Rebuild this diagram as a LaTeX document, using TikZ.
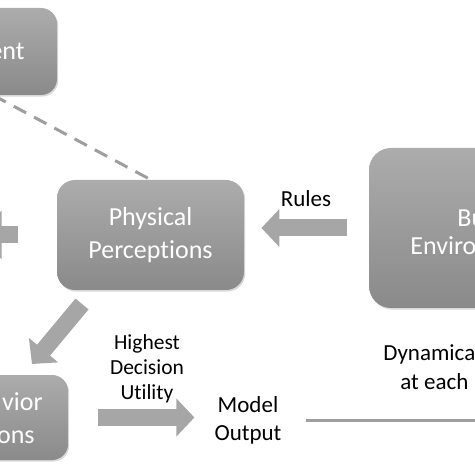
\documentclass[tikz,border=0pt]{standalone}
\usepackage{fontspec}
\setmainfont[Ligatures=CommonOff]{Carlito}
\usetikzlibrary{arrows.meta,positioning,shadows}

\definecolor{boxtop}{RGB}{172,172,172}
\definecolor{boxbot}{RGB}{138,138,138}
\definecolor{arrowgray}{RGB}{166,166,166}
\definecolor{linegray}{RGB}{158,158,158}

\begin{document}
\begin{tikzpicture} [
    x=0.5pt, y=-0.5pt,
    block/.style={rectangle, rounded corners=9pt, draw=none, top color=boxtop, bottom color=boxbot,
      text=white, align=center, font=\fontsize{13}{16.5}\selectfont,
      drop shadow={opacity=0.3, shadow xshift=0.6pt, shadow yshift=-0.8pt}},
    boxtext/.style={text=white, inner sep=0pt, font=\fontsize{13}{16.5}\selectfont},
    note/.style={inner sep=0pt, align=center, font=\fontsize{11.5}{14}\selectfont},
    blk/.style={draw=arrowgray, line width=8.5pt, -{Triangle[length=9pt,width=18.5pt]}},
    flat/.style={draw=linegray, line width=1.5pt},
    dashline/.style={draw=linegray, line width=1.5pt, dash pattern=on 7pt off 4.5pt}
    ]
    \useasboundingbox (0,0) rectangle (474,474);
    %Boxes
    \node[block, minimum width=63.5pt, minimum height=43.5pt, rounded corners=8pt] (agent) at (-6.5,51.5) {};
    \node[boxtext, anchor=base east] (agenttxt) at (25,60) {ent};
    \node[block, minimum width=93.5pt, minimum height=55pt] (phys) at (150.5,235) {Physical\\Perceptions};
    \node[block, minimum width=115.5pt, minimum height=80pt, rounded corners=11pt] (built) at (484.5,228) {};
    \node[boxtext, anchor=base west] (builttxt1) at (457,227) {Bu};
    \node[boxtext, anchor=base west] (builttxt2) at (410,255) {Enviro};
    \node[block, minimum width=69pt, minimum height=42.5pt, rounded corners=8pt] (behav) at (-1,417.5) {};
    \node[boxtext, anchor=base east] (behavtxt1) at (43,410) {vior};
    \node[boxtext, anchor=base east] (behavtxt2) at (35,443) {ons};
    %Texts
    \node[note, anchor=base] (rules) at (306,207) {Rules};
    \node[note, font=\fontsize{10.75}{12.5}\selectfont] (utility) at (147,369) {Highest\\Decision\\Utility};
    \node[note] (output) at (248,420.5) {Model\\Output};
    \node[note, anchor=base west] (dyn1) at (383,360) {Dynamica};
    \node[note, anchor=base west] (dyn2) at (400,389) {at each};
    \coordinate (rulesA) at ([xshift=-11pt]built.west);
    \coordinate (dgA) at (82,304);
    \coordinate (dgB) at (32,364);
    \coordinate (lineend) at (480,419);
    %Lines
    \draw[dashline] (agent.south) -- (phys.north);
    \draw[blk, shorten >=8.5pt] (rulesA) -- (rulesA -| phys.east);
    \draw[blk, -{Triangle[length=12pt,width=23.5pt]}] ([xshift=-19.5pt]phys.west) -- ++(-40,0);
    \draw[blk] (dgA) -- (dgB);
    \draw[blk] ([xshift=15pt]behav.east) -- ([xshift=63pt]behav.east);
    \draw[flat] ([xshift=12pt]output.east) -- (lineend |- output.east);
\end{tikzpicture}
\end{document}
